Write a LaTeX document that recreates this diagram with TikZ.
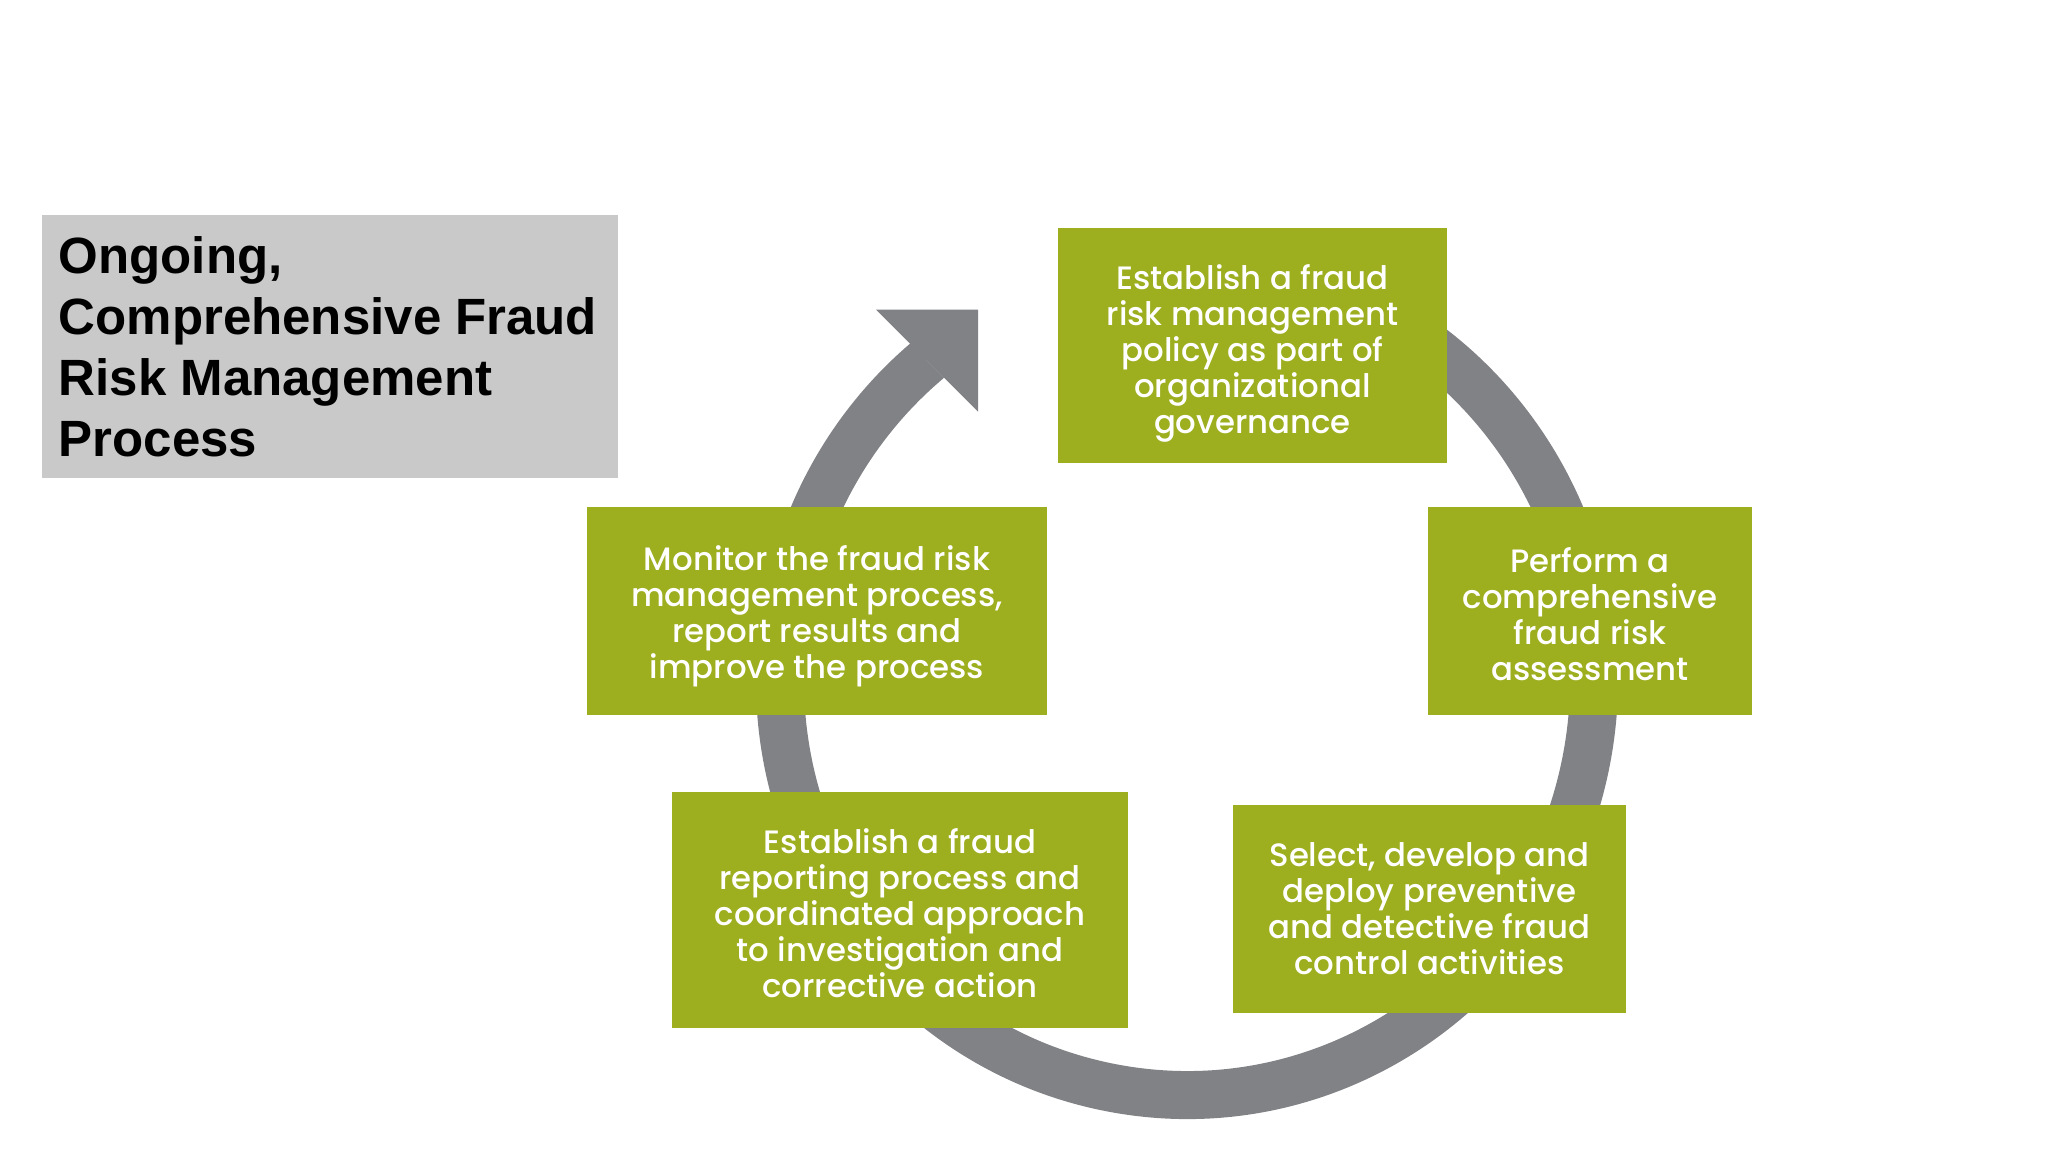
\documentclass[tikz,border=0pt]{standalone}
\usepackage{fontspec}
\setmainfont{Liberation Sans}
\newfontfamily\stagefont{Poppins}[UprightFont={* Medium}]
\usetikzlibrary{arrows.meta,positioning,calc}
\definecolor{olive}{HTML}{9DAE1E}
\definecolor{ringgray}{HTML}{808285}
\definecolor{titlegray}{HTML}{C9C9C9}

\begin{document}
\begin{tikzpicture}[x=0.01cm,y=-0.01cm,
  stage/.style={fill=olive,text=white,inner sep=0pt,align=center,
    font=\stagefont\fontsize{9.2pt}{10.24pt}\selectfont},
  ring/.style={draw=ringgray,line width=4.8mm,
    -{Triangle[length=7.2mm,width=14.4mm,line width=0pt]}}]
\useasboundingbox (0,0) rectangle (2048,1152);
% the cycle behind the stages
\coordinate (ringc) at (1187,680);
\draw[ring] ($(ringc)+(-80:407 and 415)$)
  arc[start angle=-80,end angle=230.3,x radius=407,y radius=415] -- ++(51,-51);
% stages
\node[stage,minimum width=3.89cm,minimum height=2.35cm] (govern) at (1252.5,345.5)
  {\rule{0pt}{4mm}Establish a fraud\\risk management\\policy as part of\\organizational\\governance};
\node[stage,minimum width=3.24cm,minimum height=2.08cm] (assess) at (1590,611)
  {\rule{0pt}{3.1mm}Perform a\\comprehensive\\fraud risk\\assessment};
\node[stage,minimum width=3.93cm,minimum height=2.08cm] (control) at (1429.5,909)
  {Select, develop and\\deploy preventive\\and detective fraud\\control activities};
\node[stage,minimum width=4.56cm,minimum height=2.36cm] (report) at (900,910)
  {\rule{0pt}{3.2mm}Establish a fraud\\reporting process and\\coordinated approach\\to investigation and\\corrective action};
\node[stage,minimum width=4.6cm,minimum height=2.08cm] (monitor) at (817,611)
  {\rule{0pt}{3.6mm}Monitor the fraud risk\\management process,\\report results and\\improve the process};
% title
\node[fill=titlegray,minimum width=5.76cm,minimum height=2.63cm,inner sep=0pt]
  (titlebox) at (330,346.5) {};
\node[right=0.17cm of titlebox.west,inner sep=0pt,align=left,
  font=\bfseries\fontsize{14.5pt}{17.36pt}\selectfont] (title)
  {Ongoing,\\Comprehensive Fraud\\Risk Management\\Process};
\end{tikzpicture}
\end{document}
